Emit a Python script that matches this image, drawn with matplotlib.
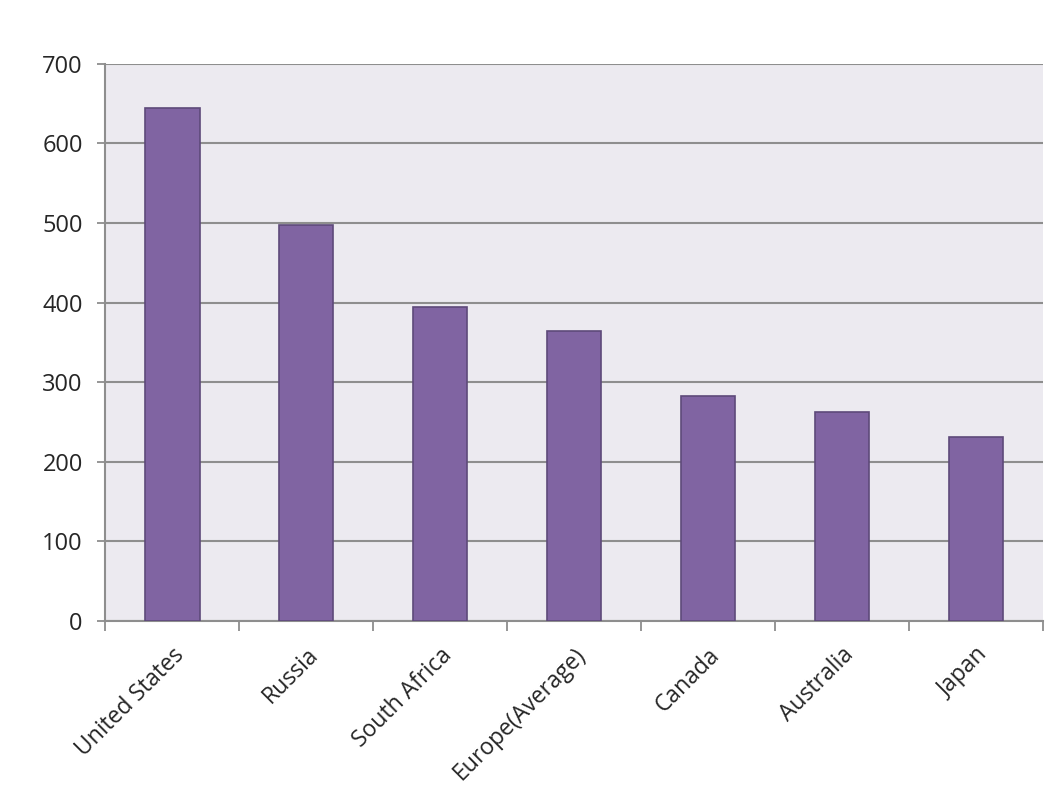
import matplotlib
matplotlib.use('Agg')
import matplotlib.pyplot as plt

# datos
countries = ['United States', 'Russia', 'South Africa', 'Europe(Average)',
             'Canada', 'Australia', 'Japan']
values = [645, 498, 394, 364, 283, 263, 231]
y_ticks = [0, 100, 200, 300, 400, 500, 600, 700]

plt.rcParams['font.family'] = ['Open Sans', 'DejaVu Sans']

fig = plt.figure(figsize=(10.61, 7.89), dpi=100)
ax = fig.add_axes([0.099, 0.213, 0.884, 0.706])
ax.set_facecolor('#ECEAF0')

x = list(range(len(countries)))
ax.bar(x, values, width=0.41, color='#8064A2', edgecolor='#5E4A7A',
       linewidth=1.2, zorder=3)

ax.set_xlim(-0.5, len(countries) - 0.5)
ax.set_ylim(0, 700)
ax.set_yticks(y_ticks)
ax.yaxis.grid(True, color='#8E8E8E', linewidth=1.5, zorder=1)

# ticks del eje x entre categorias
ax.set_xticks([i - 0.5 for i in range(len(countries) + 1)], minor=False)
ax.set_xticklabels([])
ax.set_xticks(x, minor=True)
ax.set_xticklabels(countries, minor=True, rotation=45, ha='right',
                   rotation_mode='anchor', fontsize=16.5, color='#262626')
ax.tick_params(axis='x', which='minor', length=0, pad=16)
ax.tick_params(axis='x', which='major', length=7, width=1.3, color='#8E8E8E')
ax.tick_params(axis='y', length=6, width=1.3, color='#8E8E8E',
               labelsize=17, labelcolor='#262626', pad=10)

for s in ['top', 'right']:
    ax.spines[s].set_visible(False)
for s in ['left', 'bottom']:
    ax.spines[s].set_color('#8E8E8E')
    ax.spines[s].set_linewidth(1.5)
ax.set_axisbelow(True)

fig.savefig('out.png', dpi=100)
